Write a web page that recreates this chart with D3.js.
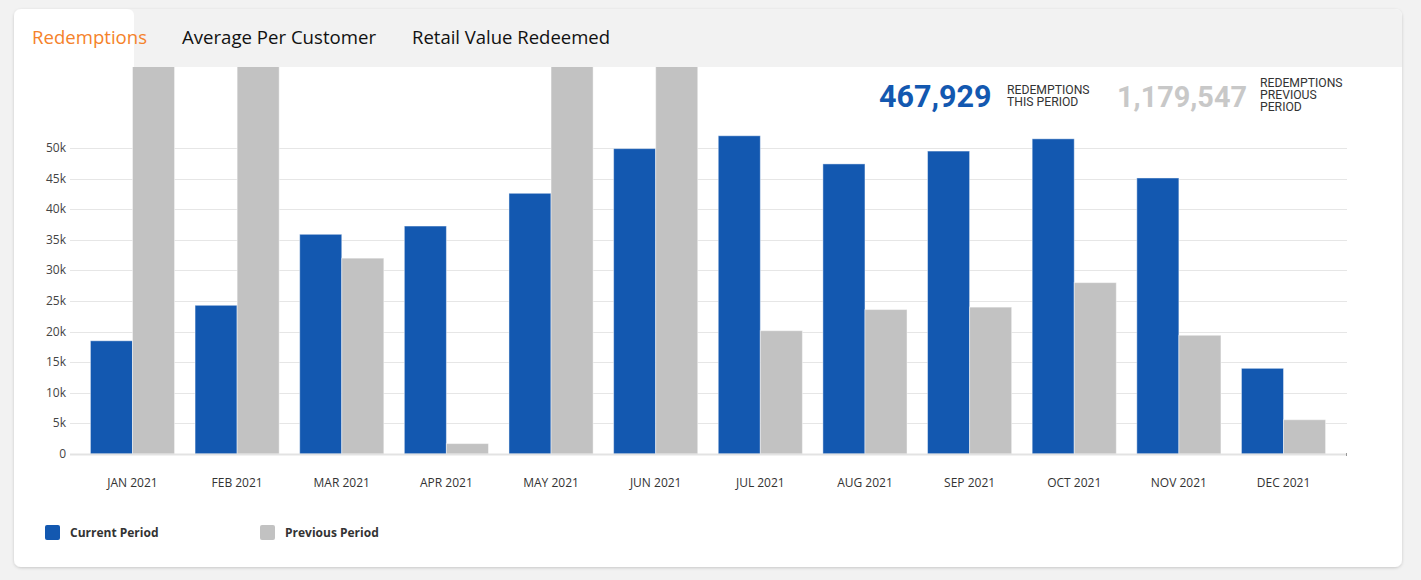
<!DOCTYPE html>
<html>
<head>
<meta charset="utf-8">
<script src="https://cdn.jsdelivr.net/npm/d3@7"></script>
<style>
  html, body { margin: 0; padding: 0; background: #f2f2f2; }
  svg { display: block; font-family: "Open Sans", Roboto, sans-serif; }
</style>
</head>
<body>
<svg id="chart" width="1421" height="580"></svg>
<script>
/* Redemptions: current vs previous period, grouped bars */

const months = ['JAN 2021', 'FEB 2021', 'MAR 2021', 'APR 2021', 'MAY 2021', 'JUN 2021',
  'JUL 2021', 'AUG 2021', 'SEP 2021', 'OCT 2021', 'NOV 2021', 'DEC 2021'];
const currentPeriod = [18500, 24300, 35900, 37250, 42600, 49900, 52000, 47400, 49500, 51500, 45100, 14000];
const previousPeriod = [260000, 270000, 32000, 1700, 245000, 250000, 20150, 23600, 24000, 28000, 19400, 5600];
const yTicks = [0, 5000, 10000, 15000, 20000, 25000, 30000, 35000, 40000, 45000, 50000];
const tabs = ['Redemptions', 'Average Per Customer', 'Retail Value Redeemed'];
const seriesNames = ['Current Period', 'Previous Period'];
const totalThis = 467929;
const totalPrev = 1179547;

const BLUE = '#1358b0';
const GRAY = '#c2c2c2';
const ORANGE = '#f5822a';

const svg = d3.select('#chart');

// card with soft shadow
const defs = svg.append('defs');
const sh = defs.append('filter').attr('id', 'shadow')
  .attr('x', '-5%').attr('y', '-5%').attr('width', '110%').attr('height', '110%');
sh.append('feDropShadow').attr('dx', 0).attr('dy', 1).attr('stdDeviation', 1.5)
  .attr('flood-color', '#000').attr('flood-opacity', 0.18);

const card = { x: 14, y: 9, w: 1388, h: 558 };
svg.append('rect')
  .attr('x', card.x).attr('y', card.y).attr('width', card.w).attr('height', card.h)
  .attr('rx', 7).attr('fill', '#fff').attr('filter', 'url(#shadow)');

defs.append('clipPath').attr('id', 'card-clip')
  .append('rect')
  .attr('x', card.x).attr('y', card.y).attr('width', card.w).attr('height', card.h)
  .attr('rx', 7);

// tab bar
const tabBar = svg.append('g').attr('clip-path', 'url(#card-clip)');
tabBar.append('rect')
  .attr('x', card.x).attr('y', card.y).attr('width', card.w).attr('height', 58)
  .attr('fill', '#f2f2f2');
tabBar.append('path')
  .attr('d', `M${card.x},67 V${card.y + 7} Q${card.x},${card.y} ${card.x + 7},${card.y} H127 Q134,${card.y} 134,${card.y + 7} V67 Z`)
  .attr('fill', '#fff');

const tabX = [32, 182, 412];
const tabW = [115, 194, 198];
svg.append('g').selectAll('text')
  .data(tabs)
  .join('text')
  .attr('x', (d, i) => tabX[i])
  .attr('y', 44)
  .attr('font-size', 17.5)
  .attr('textLength', (d, i) => tabW[i])
  .attr('lengthAdjust', 'spacingAndGlyphs')
  .attr('fill', (d, i) => i === 0 ? ORANGE : '#111')
  .text((d) => d);

// scales
const plot = { left: 70, right: 1347, top: 67, bottom: 454 };
const x = d3.scaleBand().domain(months).range([81, 1335]).paddingInner(0.196).paddingOuter(0.09);
const xs = d3.scaleBand().domain([0, 1]).range([0, x.bandwidth()]);
const y = d3.scaleLinear().domain([0, 50000]).range([plot.bottom, 148]);

// gridlines
svg.append('g').selectAll('line')
  .data(yTicks.filter((d) => d > 0))
  .join('line')
  .attr('x1', plot.left).attr('x2', plot.right)
  .attr('y1', (d) => Math.round(y(d)) + 0.5).attr('y2', (d) => Math.round(y(d)) + 0.5)
  .attr('stroke', '#e6e6e6');

// y axis labels
svg.append('g').selectAll('text')
  .data(yTicks)
  .join('text')
  .attr('x', 66)
  .attr('y', (d) => y(d) + 4)
  .attr('text-anchor', 'end')
  .attr('font-size', 12)
  .attr('fill', '#444')
  .text((d) => d === 0 ? '0' : d / 1000 + 'k');

// bars, clipped under the tab bar
defs.append('clipPath').attr('id', 'plot-clip')
  .append('rect')
  .attr('x', plot.left).attr('y', plot.top)
  .attr('width', plot.right - plot.left).attr('height', plot.bottom - plot.top);

const rows = months.map((m, i) => ({ m, vals: [currentPeriod[i], previousPeriod[i]] }));
svg.append('g').attr('clip-path', 'url(#plot-clip)')
  .selectAll('g')
  .data(rows)
  .join('g')
  .attr('transform', (d) => `translate(${x(d.m)},0)`)
  .selectAll('rect')
  .data((d) => d.vals.map((v, k) => ({ v, k })))
  .join('rect')
  .attr('x', (d) => xs(d.k))
  .attr('y', (d) => y(d.v))
  .attr('width', xs.bandwidth())
  .attr('height', (d) => y(0) - y(d.v))
  .attr('fill', (d) => d.k === 0 ? BLUE : GRAY)
  .attr('stroke', 'rgba(255,255,255,0.45)')
  .attr('stroke-width', 1);

// baseline
svg.append('line')
  .attr('x1', plot.left).attr('x2', plot.right)
  .attr('y1', plot.bottom + 0.5).attr('y2', plot.bottom + 0.5)
  .attr('stroke', '#e3e3e3').attr('stroke-width', 2);
svg.append('line')
  .attr('x1', plot.right - 0.5).attr('x2', plot.right - 0.5)
  .attr('y1', plot.bottom - 1).attr('y2', plot.bottom + 2)
  .attr('stroke', '#999');

// x axis labels
svg.append('g').selectAll('text')
  .data(months)
  .join('text')
  .attr('x', (d) => x(d) + x.bandwidth() / 2)
  .attr('y', 487)
  .attr('text-anchor', 'middle')
  .attr('font-size', 12)
  .attr('fill', '#333')
  .text((d) => d);

// totals
const stats = svg.append('g').attr('font-family', 'Roboto, sans-serif');
stats.append('text')
  .attr('x', 879).attr('y', 107)
  .attr('font-size', 30.5).attr('font-weight', 700)
  .attr('fill', BLUE)
  .text(d3.format(',')(totalThis));
stats.append('text')
  .attr('x', 1117).attr('y', 107)
  .attr('font-size', 30).attr('font-weight', 700)
  .attr('textLength', 130)
  .attr('lengthAdjust', 'spacingAndGlyphs')
  .attr('fill', '#c8c8c8')
  .text(d3.format(',')(totalPrev));

const lbl = (x0, y0, lines) => {
  stats.append('text')
    .attr('x', x0).attr('y', y0)
    .attr('font-size', 12.2)
    .attr('fill', '#333')
    .selectAll('tspan')
    .data(lines)
    .join('tspan')
    .attr('x', x0)
    .attr('dy', (d, i) => i === 0 ? 0 : 12)
    .text((d) => d);
};
lbl(1007, 93.5, ['REDEMPTIONS', 'THIS PERIOD']);
lbl(1260, 86.5, ['REDEMPTIONS', 'PREVIOUS', 'PERIOD']);

// legend
const legX = [45, 260];
const leg = svg.append('g').selectAll('g')
  .data(seriesNames)
  .join('g')
  .attr('transform', (d, i) => `translate(${legX[i]},525)`);
leg.append('rect')
  .attr('width', 15).attr('height', 15).attr('rx', 2)
  .attr('fill', (d, i) => i === 0 ? BLUE : GRAY);
leg.append('text')
  .attr('x', 25).attr('y', 12)
  .attr('font-size', 12).attr('font-weight', 700)
  .attr('fill', '#333')
  .text((d) => d);
</script>
</body>
</html>
